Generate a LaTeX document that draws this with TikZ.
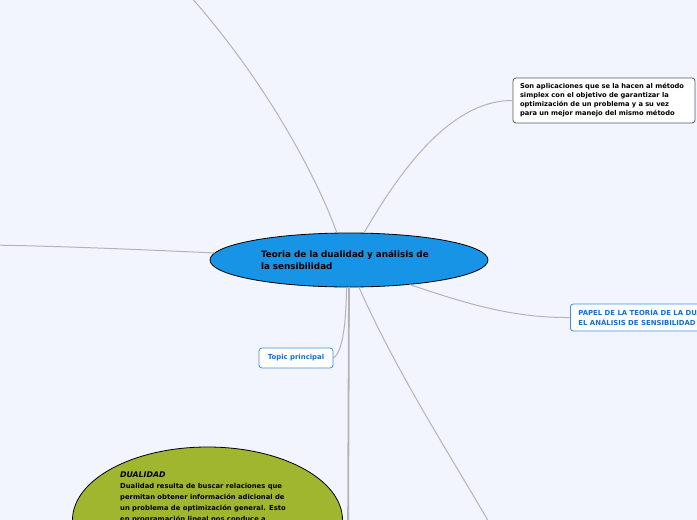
\documentclass[tikz,border=0pt]{standalone}
\usepackage{fontspec}
\setmainfont{DejaVu Sans}
\usepackage{xcolor}
\definecolor{ColBg}{RGB}{242,245,254}
\definecolor{ColMain}{RGB}{24,148,230}
\definecolor{ColGreen}{RGB}{160,182,46}
\definecolor{ColBlue}{RGB}{60,143,232}
\definecolor{ColBlueTxt}{RGB}{22,110,210}
\definecolor{ColEdge}{RGB}{180,180,182}
\usepackage{tikz}
\usetikzlibrary{shapes.geometric}
\tikzstyle{Main}=[ellipse,draw=black,thick,fill=ColMain,minimum width=278pt,
minimum height=54pt,inner sep=0pt,text width=176pt,align=left,
font=\bfseries\fontsize{8.8}{12}\selectfont]
\tikzstyle{Green}=[ellipse,draw=black,thick,fill=ColGreen,
minimum width=270pt,minimum height=146pt]
\tikzstyle{BoxDark}=[rectangle,rounded corners=3pt,draw=black!65,fill=white,
thick,inner xsep=7pt,inner ysep=0pt,minimum height=45pt,text width=168pt,
align=left,font=\bfseries\fontsize{6.7}{9}\selectfont]
\tikzstyle{BoxBlue}=[rectangle,rounded corners=3pt,draw=ColBlue,fill=white,
thick,text=ColBlueTxt,inner ysep=0pt,align=left,
font=\bfseries\fontsize{6.9}{10.5}\selectfont]
\tikzstyle{GreenTxt}=[anchor=north west,inner sep=0pt,align=left,
font=\bfseries\fontsize{6.8}{11}\selectfont]
\tikzstyle{Edge}=[draw=ColEdge,line width=1pt,line cap=round]

\begin{document}
\begin{tikzpicture}[x=1pt,y=1pt]
        \useasboundingbox(0,0)rectangle(697,-520);
        \fill[ColBg](0,0)rectangle(697,-520);
        \clip(0,0)rectangle(697,-520);
        \coordinate(up)at(168,28);
        \coordinate(left)at(-12,-245);
        \coordinate(down)at(348,-545);
        \coordinate(downright)at(502,-545);
        \node[Main](teoria)at(349,-260)
            {Teoria de la dualidad y análisis de\\la sensibilidad};
        \node[BoxDark](aplic)at(604,-100.5)
            {Son aplicaciones que se la hacen al método\\
             simplex con el objetivo de garantizar la\\
             optimización de un problema y a su vez\\
             para un mejor manejo del mismo método};
        \node[BoxBlue,inner xsep=8pt,minimum height=27pt,anchor=west](papel)
            at(570,-317.5){PAPEL DE LA TEORÍA DE LA DUALIDAD Y\\
             EL ANÁLISIS DE SENSIBILIDAD};
        \node[BoxBlue,minimum width=74pt,minimum height=20pt,inner xsep=0pt]
            (topic)at(296,-358){Topic principal};
        \node[Green](dualidad)at(207.5,-520){};
        \node[GreenTxt](dualidadtxt)at(120,-472)
            {{\fontsize{7.8}{11}\selectfont\itshape DUALIDAD}\\
             Dualidad resulta de buscar relaciones que\\
             permitan obtener información adicional de\\
             un problema de optimización general. Esto\\
             en programación lineal nos conduce a\\
             relaciones primal-dual. Esta relación};
        \draw[Edge](teoria.114)..controls(318,-180)and(262,-70)..(up);
        \draw[Edge](teoria.61)..controls(392,-185)and(445,-100)..(aplic.west);
        \draw[Edge](teoria.177)..controls(150,-250)and(60,-246)..(left);
        \draw[Edge](teoria.-22)..controls(470,-305)and(515,-318)..(papel.west);
        \draw[Edge](teoria.-95)..controls(346,-322)and(343,-352)..(topic.east);
        \draw[Edge,line width=1.8pt](teoria.south)--(down);
        \draw[Edge](teoria.-70)..controls(400,-380)and(460,-470)..(downright);
    \end{tikzpicture}
\end{document}
